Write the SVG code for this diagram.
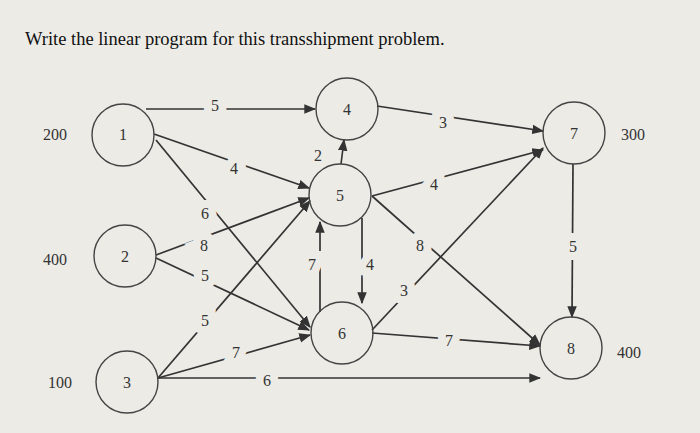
<svg xmlns="http://www.w3.org/2000/svg" width="700" height="433" viewBox="0 0 700 433">
<defs><marker id="a" viewBox="0 0 10 10" refX="9" refY="5" markerWidth="7" markerHeight="7" orient="auto"><path d="M0,1 L10,5 L0,9z" fill="#333"/></marker></defs>
<style>
.n{fill:none;stroke:#444;stroke-width:1.4}
.c{stroke:#333;stroke-width:1.7;fill:none;marker-end:url(#a)}
text{font-family:"Liberation Serif",serif;font-size:16px;fill:#333;text-anchor:middle}
.l{paint-order:stroke;stroke:#ecebe6;stroke-width:16px}
</style>
<rect width="700" height="433" fill="#ecebe6"/>
<text x="25" y="45" style="text-anchor:start;font-size:18.5px;fill:#111">Write the linear program for this transshipment problem.</text>
<g id="connectors">
<line class="c" x1="146" y1="109" x2="315" y2="109"/><text class="l" x="215" y="111">5</text>
<line class="c" x1="154" y1="134" x2="309" y2="188"/><text class="l" x="234" y="174">4</text>
<line class="c" x1="156" y1="140" x2="310" y2="327"/><text class="l" x="205" y="219">6</text>
<line class="c" x1="156" y1="255" x2="309" y2="198"/><text class="l" x="204" y="251">8</text>
<line class="c" x1="156" y1="258" x2="309" y2="330"/><text class="l" x="205" y="281">5</text>
<line class="c" x1="158" y1="378" x2="310" y2="201"/><text class="l" x="205" y="326">5</text>
<line class="c" x1="158" y1="378" x2="310" y2="335"/><text class="l" x="236" y="358">7</text>
<line class="c" x1="158" y1="378" x2="540" y2="378"/><text class="l" x="267" y="386">6</text>
<line class="c" x1="341" y1="164" x2="344" y2="140"/><text class="l" x="318" y="161">2</text>
<line class="c" x1="320" y1="312" x2="320" y2="222"/><text class="l" x="312" y="270">7</text>
<line class="c" x1="362" y1="218" x2="362" y2="303"/><text class="l" x="370" y="270">4</text>
<line class="c" x1="377" y1="106" x2="543" y2="131"/><text class="l" x="443" y="128">3</text>
<line class="c" x1="372" y1="196" x2="543" y2="150"/><text class="l" x="434" y="190">4</text>
<line class="c" x1="372" y1="196" x2="540" y2="345"/><text class="l" x="420" y="251">8</text>
<line class="c" x1="372" y1="330" x2="543" y2="148"/><text class="l" x="404" y="296">3</text>
<line class="c" x1="372" y1="333" x2="540" y2="346"/><text class="l" x="449" y="346">7</text>
<line class="c" x1="573" y1="164" x2="572" y2="317"/><text class="l" x="573" y="252">5</text>
</g>
<g id="n1"><circle class="n" cx="123" cy="135" r="31"/><text x="123" y="140">1</text><text x="55" y="140">200</text></g>
<g id="n2"><circle class="n" cx="125" cy="256" r="31"/><text x="125" y="262">2</text><text x="55" y="265">400</text></g>
<g id="n3"><circle class="n" cx="127" cy="382" r="31"/><text x="127" y="388">3</text><text x="60" y="388">100</text></g>
<g id="n4"><circle class="n" cx="347" cy="109" r="31"/><text x="347" y="115">4</text></g>
<g id="n5"><circle class="n" cx="340" cy="195" r="31"/><text x="340" y="201">5</text></g>
<g id="n6"><circle class="n" cx="342" cy="333" r="31"/><text x="342" y="339">6</text></g>
<g id="n7"><circle class="n" cx="574" cy="133" r="31"/><text x="574" y="139">7</text><text x="633" y="140">300</text></g>
<g id="n8"><circle class="n" cx="571" cy="348" r="31"/><text x="571" y="354">8</text><text x="629" y="358">400</text></g>
</svg>
